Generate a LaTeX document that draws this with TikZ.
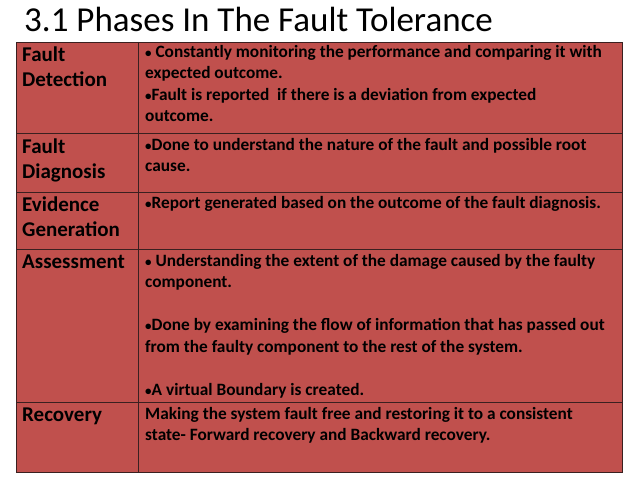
\documentclass[tikz,border=0pt]{standalone}
\usepackage{fontspec}
\setmainfont{Carlito}
\definecolor{cellred}{HTML}{C0504D}
\definecolor{edge}{HTML}{3A2020}
\newcommand{\bul}{{\fontsize{13}{13}\selectfont•}}
\begin{document}
\begin{tikzpicture}[x=1pt,y=-1pt,
  lab/.style={anchor=north west,inner sep=0pt,align=left,font=\fontsize{21}{25}\selectfont\bfseries},
  body/.style={anchor=north west,inner sep=0pt,align=left,font=\fontsize{17.3}{21.5}\selectfont\bfseries}]
\useasboundingbox (0,0) rectangle (638,478);
\fill[white] (0,0) rectangle (638,478);
\node[anchor=west,inner sep=0pt,font=\fontsize{35}{38}\selectfont] (title) at (24,19) {3.1 Phases In The Fault Tolerance};
\fill[cellred] (16,42) rectangle (622,472);
\draw[edge,line width=0.9pt] (16,42) rectangle (622,472);
\foreach \y in {133,192,249,402} \draw[edge,line width=0.9pt] (16,\y) -- (622,\y);
\draw[edge,line width=0.9pt] (138,42) -- (138,472);
\node[lab] (l1) at (22,47) {Fault\\Detection};
\node[lab] (l2) at (22,139) {Fault\\Diagnosis};
\node[lab] (l3) at (22,197) {Evidence\\Generation};
\node[lab] (l4) at (22,255) {Assessment};
\node[lab] (l5) at (22,408) {Recovery};
\node[body] (b1) at (145,45) {\bul{} Constantly monitoring the performance and comparing it with\\expected outcome.\\\bul Fault is reported\ \ if there is a deviation from expected\\outcome.};
\node[body] (b2) at (145,138) {\bul Done to understand the nature of the fault and possible root\\cause.};
\node[body] (b3) at (145,196) {\bul Report generated based on the outcome of the fault diagnosis.};
\node[body] (b4) at (145,254) {\bul{} Understanding the extent of the damage caused by the faulty\\component.\\[21.5pt]\bul Done by examining the flow of information that has passed out\\from the faulty component to the rest of the system.\\[21.5pt]\bul A virtual Boundary is created.};
\node[body] (b5) at (145,407) {Making the system fault free and restoring it to a consistent\\state- Forward recovery and Backward recovery.};
\end{tikzpicture}
\end{document}
